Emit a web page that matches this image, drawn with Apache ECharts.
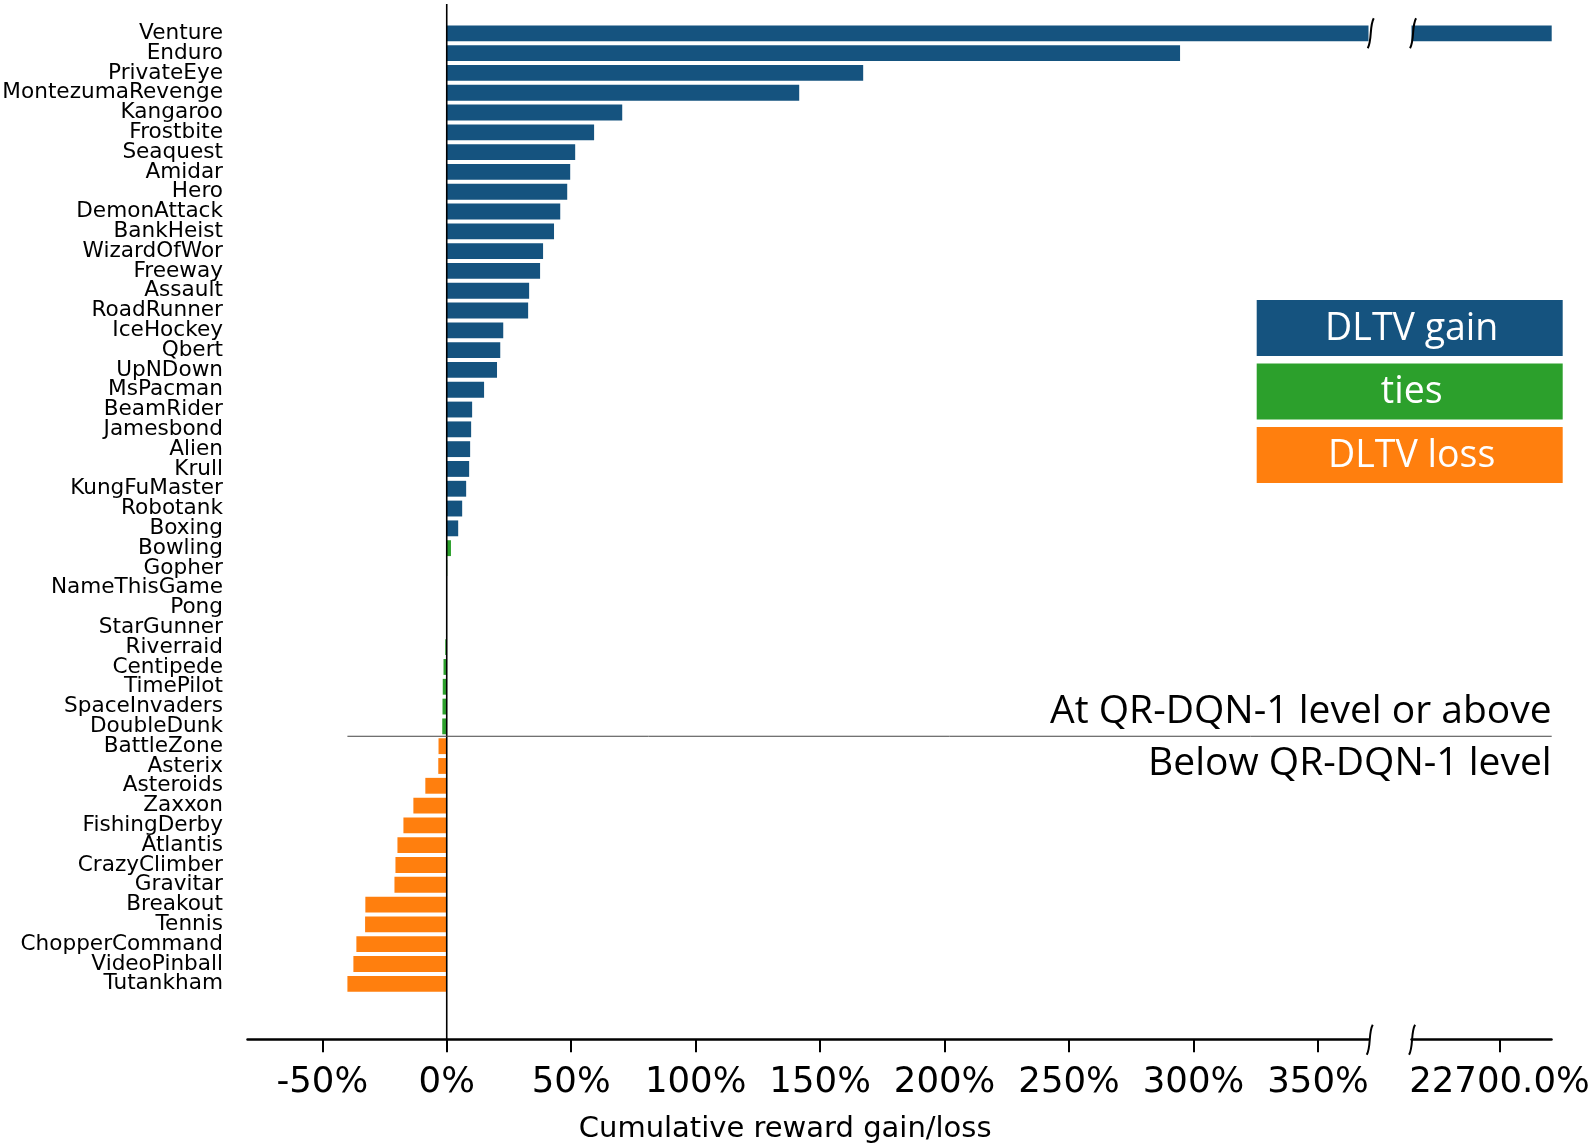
<!DOCTYPE html>
<html><head><meta charset="utf-8">
<script src="https://cdn.jsdelivr.net/npm/echarts@6/dist/echarts.min.js"></script>
<style>html,body{margin:0;padding:0;background:#fff}#c{width:1595px;height:1144px}</style>
</head><body><div id="c"></div>
<script>
const gainGames = ['Venture','Enduro','PrivateEye','MontezumaRevenge','Kangaroo','Frostbite','Seaquest','Amidar','Hero','DemonAttack','BankHeist','WizardOfWor','Freeway','Assault','RoadRunner','IceHockey','Qbert','UpNDown','MsPacman','BeamRider','Jamesbond','Alien','Krull','KungFuMaster','Robotank','Boxing'];
const gainValues = [22721, 294.6, 167.3, 141.6, 70.5, 59.2, 51.6, 49.6, 48.4, 45.6, 43.1, 38.7, 37.5, 33.1, 32.7, 22.7, 21.5, 20.2, 15.0, 10.2, 9.8, 9.4, 9.0, 7.8, 6.2, 4.6];
const tieGames = ['Bowling','Gopher','NameThisGame','Pong','StarGunner','Riverraid','Centipede','TimePilot','SpaceInvaders','DoubleDunk'];
const tieValues = [1.7, 0.2, 0.1, 0.05, -0.3, -0.6, -1.3, -1.6, -1.7, -1.8];
const lossGames = ['BattleZone','Asterix','Asteroids','Zaxxon','FishingDerby','Atlantis','CrazyClimber','Gravitar','Breakout','Tennis','ChopperCommand','VideoPinball','Tutankham'];
const lossValues = [-3.3, -3.4, -8.6, -13.4, -17.4, -19.8, -20.6, -21.0, -32.7, -32.8, -36.3, -37.5, -39.9];
const xTickValues = [-50, 0, 50, 100, 150, 200, 250, 300, 350, 22700];
const legendNames = ['DLTV gain', 'ties', 'DLTV loss'];
const aboveText = 'At QR-DQN-1 level or above';
const belowText = 'Below QR-DQN-1 level';

const AXIS_MIN = -80, AXIS_MAX = 22721;
const BREAK_START = 370.4, BREAK_END = 22664.5, BREAK_GAP = 17;

const BLUE = '#15537f', GREEN = '#2ca02c', ORANGE = '#ff7f0e';
const colors = [BLUE, GREEN, ORANGE];

const categories = gainGames.concat(tieGames, lossGames);
function seriesData(games, values) {
  return categories.map(c => { const i = games.indexOf(c); return i < 0 ? '-' : values[i]; });
}

const GRID = {left: 247.6, right: 43.3, top: 23.4, bottom: 150.3};
const X_OFFSET = 46;
const AXIS_Y = 1144 - GRID.bottom + X_OFFSET;

const chart = echarts.init(document.getElementById('c'));
const mkSeries = (name, games, values, color) => ({
  type: 'bar', name: name, stack: 'all', barWidth: '80%',
  data: seriesData(games, values),
  itemStyle: {color: color, borderWidth: 0},
  emphasis: {disabled: true}
});

chart.setOption({
  animation: false,
  grid: Object.assign({outerBoundsMode: 'none', containLabel: false}, GRID),
  xAxis: {
    type: 'value', min: AXIS_MIN, max: AXIS_MAX,
    breaks: [{start: BREAK_START, end: BREAK_END, gap: BREAK_GAP}],
    breakArea: {show: true, expandOnClick: false, zigzagAmplitude: 0,
      itemStyle: {color: '#fff', borderWidth: 0, borderColor: '#fff', opacity: 1}},
    offset: X_OFFSET,
    axisLine: {show: true, onZero: false, lineStyle: {color: '#000', width: 2.5}},
    axisTick: {show: true, customValues: xTickValues, length: 12.5, lineStyle: {color: '#000', width: 2}},
    axisLabel: {customValues: xTickValues, formatter: v => v === 22700 ? '22700.0%' : v + '%',
      fontFamily: 'DejaVu Sans', fontSize: 35.5, color: '#000', margin: 25},
    splitLine: {show: false},
    name: 'Cumulative reward gain/loss', nameLocation: 'middle', nameGap: 75,
    nameTextStyle: {fontFamily: 'DejaVu Sans', fontSize: 29, color: '#000', padding: [0, 229, 0, 0]}
  },
  yAxis: {
    type: 'category', inverse: true, data: categories,
    axisLine: {show: false}, axisTick: {show: false}, splitLine: {show: false},
    axisLabel: {fontFamily: 'DejaVu Sans', fontSize: 21.6, color: '#000', margin: 24.6, interval: 0, padding: [3, 0, 0, 0]}
  },
  series: [
    mkSeries(legendNames[0], gainGames, gainValues, BLUE),
    mkSeries(legendNames[1], tieGames, tieValues, GREEN),
    mkSeries(legendNames[2], lossGames, lossValues, ORANGE)
  ]
});

const px = v => chart.convertToPixel({xAxisIndex: 0}, v);
const py = c => chart.convertToPixel({yAxisIndex: 0}, c);
const x0 = px(0);
const xEnd = px(AXIS_MAX);
const xMinLoss = px(Math.min.apply(null, lossValues));
const sepY = (py(tieGames[tieGames.length - 1]) + py(lossGames[0])) / 2;
const xBs = px(BREAK_START), xBe = px(BREAK_END);
const yTop = py(gainGames[0]);

function txt(text, x, y, size, align, fill) {
  return {type: 'text', x: x, y: y, z: 120, silent: true,
    style: {text: text, fill: fill, fontFamily: 'Open Sans', fontSize: size,
      align: align, textAlign: align, verticalAlign: 'middle', textVerticalAlign: 'middle'}};
}
function breakMark(x, yc) {
  return {type: 'bezierCurve', z: 130, silent: true,
    shape: {x1: x + 3, y1: yc - 15, cpx1: x - 1.5, cpy1: yc - 7, cpx2: x + 1.5, cpy2: yc + 7, x2: x - 3, y2: yc + 15},
    style: {stroke: '#000', lineWidth: 2, fill: 'none'}};
}

const graphics = [
  {type: 'rect', z: 125, silent: true, shape: {x: xBs + 4, y: AXIS_Y - 4, width: xBe - xBs - 6, height: 8}, style: {fill: '#fff'}},
  {type: 'line', z: 110, silent: true, shape: {x1: x0, y1: 4, x2: x0, y2: AXIS_Y}, style: {stroke: '#000', lineWidth: 1.6}},
  {type: 'line', z: 110, silent: true, shape: {x1: xMinLoss, y1: sepY, x2: xEnd, y2: sepY}, style: {stroke: '#444', lineWidth: 1}},
  txt(aboveText, xEnd, sepY - 24, 39, 'right', '#000'),
  txt(belowText, xEnd, sepY + 28, 39, 'right', '#000'),
  breakMark(xBs + 2, yTop), breakMark(xBe + 2, yTop),
  breakMark(xBs + 1, AXIS_Y), breakMark(xBe + 1, AXIS_Y)
];
const LEG = {x: 1256.7, w: 306, h: 56, y0: 300, step: 63.5};
legendNames.forEach((n, i) => {
  const y = LEG.y0 + i * LEG.step;
  graphics.push({type: 'rect', z: 115, silent: true, shape: {x: LEG.x, y: y, width: LEG.w, height: LEG.h}, style: {fill: colors[i]}});
  graphics.push(txt(n, LEG.x + LEG.w / 2 + 2, y + LEG.h / 2 + 1, 37.5, 'center', '#fff'));
});
chart.setOption({graphic: graphics});
</script>
</body></html>
